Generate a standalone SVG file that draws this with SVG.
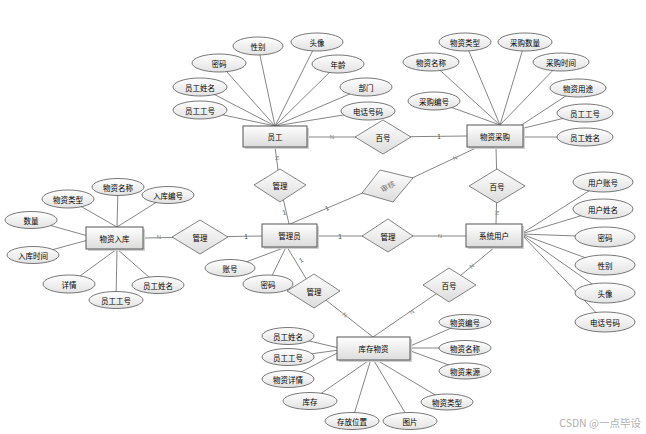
<svg xmlns="http://www.w3.org/2000/svg" width="646" height="434" viewBox="0 0 646 434">
<defs>
<linearGradient id="g" x1="0" y1="0" x2="0" y2="1"><stop offset="0" stop-color="#ffffff"/><stop offset="1" stop-color="#dcdcdc"/></linearGradient>
<linearGradient id="ge" x1="0" y1="0" x2="0" y2="1"><stop offset="0" stop-color="#ffffff"/><stop offset="1" stop-color="#e2e2e2"/></linearGradient>
<style>
.ent{fill:url(#g);stroke:#555;stroke-width:1}
.sh{fill:#d0d0d0}
.rel{fill:url(#g);stroke:#666;stroke-width:0.8}
.att{fill:url(#ge);stroke:#555;stroke-width:0.8}
.t{font-family:"Noto Sans CJK SC","Noto Sans",sans-serif;font-size:7.5px;fill:#000;text-anchor:middle;dominant-baseline:central}
.c line{stroke:#666;stroke-width:0.8}
.m{font-family:"Liberation Sans",sans-serif;font-size:6px;fill:#888;text-anchor:middle;dominant-baseline:central}
.o{font-family:"Liberation Sans",sans-serif;font-size:6.5px;fill:#444;text-anchor:middle;dominant-baseline:central}
.wm{font-family:"Noto Sans CJK SC","Liberation Sans",sans-serif;font-size:10.5px;fill:#b0b0b0;text-anchor:end}
</style>
</defs>
<rect width="646" height="434" fill="#fff"/>
<g id="connectors" class="c">
<line x1="258" y1="46" x2="275" y2="126"/><line x1="317" y1="42" x2="275" y2="126"/>
<line x1="219" y1="63" x2="275" y2="126"/><line x1="338" y1="64" x2="275" y2="126"/>
<line x1="200" y1="87" x2="275" y2="126"/><line x1="366" y1="87" x2="275" y2="126"/>
<line x1="200" y1="110" x2="275" y2="126"/><line x1="368" y1="111" x2="275" y2="126"/>
<line x1="465" y1="42" x2="500" y2="125"/><line x1="525" y1="42" x2="500" y2="125"/>
<line x1="431" y1="62" x2="500" y2="125"/><line x1="561" y1="62" x2="500" y2="125"/>
<line x1="434" y1="101" x2="500" y2="125"/><line x1="578" y1="88" x2="520" y2="126"/>
<line x1="585" y1="113" x2="520" y2="129"/><line x1="585" y1="137" x2="520" y2="137"/>
<line x1="68" y1="199" x2="117" y2="227"/><line x1="118" y1="187" x2="117" y2="227"/><line x1="168" y1="195" x2="117" y2="227"/>
<line x1="31" y1="220" x2="88" y2="236"/><line x1="33" y1="255" x2="88" y2="240"/>
<line x1="69" y1="284" x2="117" y2="249"/><line x1="116" y1="300" x2="117" y2="249"/><line x1="158" y1="285" x2="117" y2="249"/>
<line x1="230" y1="268" x2="286" y2="247"/><line x1="268" y1="284" x2="286" y2="247"/>
<line x1="603" y1="182" x2="521" y2="234"/><line x1="603" y1="209" x2="521" y2="234"/><line x1="605" y1="237" x2="521" y2="234"/>
<line x1="605" y1="265" x2="521" y2="234"/><line x1="605" y1="293" x2="521" y2="234"/><line x1="605" y1="322" x2="521" y2="234"/>
<line x1="288" y1="336" x2="339" y2="348"/><line x1="288" y1="357" x2="339" y2="350"/><line x1="288" y1="379" x2="339" y2="352"/>
<line x1="310" y1="401" x2="371" y2="359"/><line x1="352" y1="421" x2="371" y2="359"/><line x1="410" y1="421" x2="373" y2="359"/><line x1="447" y1="402" x2="375" y2="359"/>
<line x1="465" y1="322" x2="408" y2="347"/><line x1="465" y1="348" x2="408" y2="348"/><line x1="465" y1="371" x2="408" y2="350"/>
<line x1="307" y1="137" x2="383" y2="137"/><line x1="383" y1="137" x2="467" y2="136"/>
<line x1="275" y1="147" x2="280" y2="185"/><line x1="280" y1="185" x2="289" y2="224"/>
<line x1="290" y1="224" x2="365" y2="192"/><line x1="410" y1="179" x2="478" y2="147"/>
<line x1="496" y1="147" x2="497" y2="186"/><line x1="497" y1="186" x2="496" y2="224"/>
<line x1="262" y1="236" x2="200" y2="237"/><line x1="200" y1="237" x2="143" y2="238"/>
<line x1="317" y1="236" x2="388" y2="236"/><line x1="388" y1="236" x2="466" y2="236"/>
<line x1="287" y1="247" x2="313" y2="290"/><line x1="313" y1="290" x2="373" y2="337"/>
<line x1="373" y1="337" x2="449" y2="285"/><line x1="449" y1="285" x2="495" y2="247"/>
<text class="m" x="332" y="137">N</text>
<text class="o" x="439" y="136">1</text>
<text class="m" x="277" y="158" transform="rotate(80 277 158)">N</text>
<text class="o" x="284" y="212" transform="rotate(-15 284 212)">1</text>
<text class="o" x="327" y="208" transform="rotate(-23 327 208)">1</text>
<text class="m" x="455" y="158" transform="rotate(-25 455 158)">N</text>
<text class="m" x="497" y="213" transform="rotate(90 497 213)">N</text>
<text class="o" x="246" y="236">1</text>
<text class="m" x="159" y="237">N</text>
<text class="o" x="340" y="236">1</text>
<text class="m" x="440" y="236">N</text>
<text class="o" x="301" y="260" transform="rotate(-30 301 260)">1</text>
<text class="m" x="345" y="315" transform="rotate(38 345 315)">N</text>
<text class="m" x="412" y="312" transform="rotate(-34 412 312)">N</text>
<text class="m" x="472" y="266" transform="rotate(-40 472 266)">N</text>
</g>
<g id="e-yuangong"><rect class="sh" x="245" y="128" width="64" height="21"/><rect class="ent" x="243" y="126" width="64" height="21"/><text class="t" x="275" y="136.5">员工</text></g>
<g id="e-caigou"><rect class="sh" x="469" y="127" width="56" height="22"/><rect class="ent" x="467" y="125" width="56" height="22"/><text class="t" x="495" y="136">物资采购</text></g>
<g id="e-ruku"><rect class="sh" x="88" y="229" width="57" height="22"/><rect class="ent" x="86" y="227" width="57" height="22"/><text class="t" x="114.5" y="238">物资入库</text></g>
<g id="e-admin"><rect class="sh" x="264" y="226" width="55" height="23"/><rect class="ent" x="262" y="224" width="55" height="23"/><text class="t" x="289.5" y="235.5">管理员</text></g>
<g id="e-user"><rect class="sh" x="468" y="226" width="56" height="23"/><rect class="ent" x="466" y="224" width="56" height="23"/><text class="t" x="494" y="235.5">系统用户</text></g>
<g id="e-kucun"><rect class="sh" x="339" y="339" width="73" height="23"/><rect class="ent" x="337" y="337" width="73" height="23"/><text class="t" x="373.5" y="348.5">库存物资</text></g>
<g id="r-1"><polygon class="rel" points="355,137 383,120 411,137 383,154"/><text class="t" x="383" y="137">百号</text></g>
<g id="r-2"><polygon class="rel" points="254,185 280,169 306,185 280,202"/><text class="t" x="280" y="185.5">管理</text></g>
<g id="r-3"><polygon class="rel" points="362,193 380,170 413,178 393,202"/><text class="t" x="387.5" y="186" style="fill:#777" transform="rotate(-28 387.5 186)">审核</text></g>
<g id="r-4"><polygon class="rel" points="469,186 497,169 525,186 497,203"/><text class="t" x="497" y="186">百号</text></g>
<g id="r-5"><polygon class="rel" points="172,237 200,220 228,237 200,254"/><text class="t" x="200" y="237">管理</text></g>
<g id="r-6"><polygon class="rel" points="362,236 388,219 413,236 388,252"/><text class="t" x="388" y="236">管理</text></g>
<g id="r-7"><polygon class="rel" points="287,291 314,274 340,291 314,308"/><text class="t" x="314" y="291">管理</text></g>
<g id="r-8"><polygon class="rel" points="423,285 449,268 476,285 449,302"/><text class="t" x="449" y="285">百号</text></g>
<g id="a-yg-xb"><ellipse class="att" cx="258" cy="46" rx="25" ry="9"/><text class="t" x="258" y="46">性别</text></g>
<g id="a-yg-tx"><ellipse class="att" cx="317" cy="42" rx="26" ry="9"/><text class="t" x="317" y="42">头像</text></g>
<g id="a-yg-mm"><ellipse class="att" cx="219" cy="63" rx="27" ry="9"/><text class="t" x="219" y="63">密码</text></g>
<g id="a-yg-nl"><ellipse class="att" cx="338" cy="64" rx="26" ry="9"/><text class="t" x="338" y="64">年龄</text></g>
<g id="a-yg-xm"><ellipse class="att" cx="200" cy="87" rx="27" ry="9"/><text class="t" x="200" y="87">员工姓名</text></g>
<g id="a-yg-bm"><ellipse class="att" cx="366" cy="87" rx="26" ry="9"/><text class="t" x="366" y="87">部门</text></g>
<g id="a-yg-gh"><ellipse class="att" cx="200" cy="110" rx="27" ry="9"/><text class="t" x="200" y="110">员工工号</text></g>
<g id="a-yg-dh"><ellipse class="att" cx="368" cy="111" rx="27" ry="9"/><text class="t" x="368" y="111">电话号码</text></g>
<g id="a-cg-lx"><ellipse class="att" cx="465" cy="42" rx="26" ry="9"/><text class="t" x="465" y="42">物资类型</text></g>
<g id="a-cg-sl"><ellipse class="att" cx="525" cy="42" rx="27" ry="9"/><text class="t" x="525" y="42">采购数量</text></g>
<g id="a-cg-mc"><ellipse class="att" cx="431" cy="62" rx="28" ry="9"/><text class="t" x="431" y="62">物资名称</text></g>
<g id="a-cg-sj"><ellipse class="att" cx="561" cy="62" rx="28" ry="9"/><text class="t" x="561" y="62">采购时间</text></g>
<g id="a-cg-yt"><ellipse class="att" cx="578" cy="88" rx="28" ry="9"/><text class="t" x="578" y="88">物资用途</text></g>
<g id="a-cg-bh"><ellipse class="att" cx="434" cy="101" rx="26" ry="9"/><text class="t" x="434" y="101">采购编号</text></g>
<g id="a-cg-gh"><ellipse class="att" cx="585" cy="113" rx="28" ry="9"/><text class="t" x="585" y="113">员工工号</text></g>
<g id="a-cg-xm"><ellipse class="att" cx="585" cy="137" rx="28" ry="9"/><text class="t" x="585" y="137">员工姓名</text></g>
<g id="a-rk-mc"><ellipse class="att" cx="118" cy="187" rx="26" ry="8.5"/><text class="t" x="118" y="187">物资名称</text></g>
<g id="a-rk-lx"><ellipse class="att" cx="68" cy="199" rx="26" ry="9"/><text class="t" x="68" y="199">物资类型</text></g>
<g id="a-rk-bh"><ellipse class="att" cx="168" cy="195" rx="26" ry="8.5"/><text class="t" x="168" y="195">入库编号</text></g>
<g id="a-rk-sl"><ellipse class="att" cx="31" cy="220" rx="26" ry="8.5"/><text class="t" x="31" y="220">数量</text></g>
<g id="a-rk-sj"><ellipse class="att" cx="33" cy="255" rx="26" ry="8.5"/><text class="t" x="33" y="255">入库时间</text></g>
<g id="a-rk-xq"><ellipse class="att" cx="69" cy="284" rx="26" ry="9"/><text class="t" x="69" y="284">详情</text></g>
<g id="a-rk-xm"><ellipse class="att" cx="158" cy="285" rx="26" ry="8.5"/><text class="t" x="158" y="285">员工姓名</text></g>
<g id="a-rk-gh"><ellipse class="att" cx="116" cy="300" rx="27" ry="8.5"/><text class="t" x="116" y="300">员工工号</text></g>
<g id="a-ad-zh"><ellipse class="att" cx="230" cy="268" rx="25" ry="8.5"/><text class="t" x="230" y="268">账号</text></g>
<g id="a-ad-mm"><ellipse class="att" cx="268" cy="284" rx="25" ry="9"/><text class="t" x="268" y="284">密码</text></g>
<g id="a-u-zh"><ellipse class="att" cx="603" cy="182" rx="30" ry="10"/><text class="t" x="603" y="182">用户账号</text></g>
<g id="a-u-xm"><ellipse class="att" cx="603" cy="209" rx="30" ry="10"/><text class="t" x="603" y="209">用户姓名</text></g>
<g id="a-u-mm"><ellipse class="att" cx="605" cy="237" rx="30" ry="10"/><text class="t" x="605" y="237">密码</text></g>
<g id="a-u-xb"><ellipse class="att" cx="605" cy="265" rx="30" ry="10"/><text class="t" x="605" y="265">性别</text></g>
<g id="a-u-tx"><ellipse class="att" cx="605" cy="293" rx="30" ry="10"/><text class="t" x="605" y="293">头像</text></g>
<g id="a-u-dh"><ellipse class="att" cx="605" cy="322" rx="30" ry="10"/><text class="t" x="605" y="322">电话号码</text></g>
<g id="a-kc-xm"><ellipse class="att" cx="288" cy="336" rx="26" ry="8.5"/><text class="t" x="288" y="336">员工姓名</text></g>
<g id="a-kc-gh"><ellipse class="att" cx="288" cy="357" rx="26" ry="8.5"/><text class="t" x="288" y="357">员工工号</text></g>
<g id="a-kc-xq"><ellipse class="att" cx="288" cy="379" rx="26" ry="8.5"/><text class="t" x="288" y="379">物资详情</text></g>
<g id="a-kc-kc"><ellipse class="att" cx="310" cy="401" rx="27" ry="8.5"/><text class="t" x="310" y="401">库存</text></g>
<g id="a-kc-wz"><ellipse class="att" cx="352" cy="421" rx="27" ry="8.5"/><text class="t" x="352" y="421">存放位置</text></g>
<g id="a-kc-tp"><ellipse class="att" cx="410" cy="421" rx="27" ry="8.5"/><text class="t" x="410" y="421">图片</text></g>
<g id="a-kc-lx"><ellipse class="att" cx="447" cy="402" rx="26" ry="8"/><text class="t" x="447" y="402">物资类型</text></g>
<g id="a-kc-bh"><ellipse class="att" cx="465" cy="322" rx="26" ry="7.5"/><text class="t" x="465" y="322">物资编号</text></g>
<g id="a-kc-mc"><ellipse class="att" cx="465" cy="348" rx="26" ry="7.5"/><text class="t" x="465" y="348">物资名称</text></g>
<g id="a-kc-ly"><ellipse class="att" cx="465" cy="371" rx="26" ry="8"/><text class="t" x="465" y="371">物资来源</text></g>
<text class="wm" x="641" y="427">CSDN @一点毕设</text>
</svg>
